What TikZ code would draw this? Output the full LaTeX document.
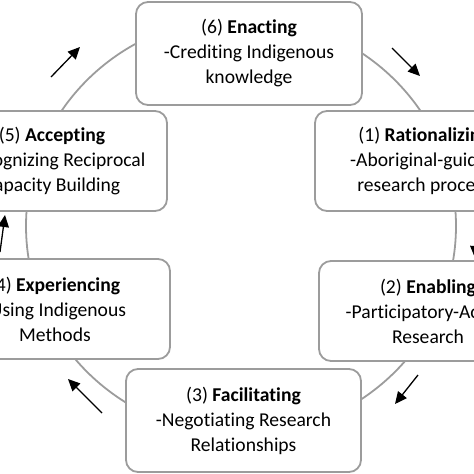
\documentclass[tikz,border=0pt]{standalone}
\usepackage{fontspec}
\setmainfont{Carlito}[Ligatures = NoCommon]
\usepackage{xcolor}
\usetikzlibrary{arrows.meta,positioning,shapes,calc}
\definecolor{ringgray}{HTML}{9C9C9C}

\begin{document}
\begin{tikzpicture}[x = 1pt, y = -1pt,
  stage/.style = {draw = ringgray, line width = 1.8pt, rounded corners = 12pt, fill = white,
    align = center, minimum height = 100pt, inner sep = 2pt,
    font = {\fontsize{19.6}{25}\selectfont}},
  flow/.style = {line width = 1.3pt, -{Triangle[length = 12pt, width = 11pt]}}]
\useasboundingbox (0,0) rectangle (474,474);
\clip (0,0) rectangle (474,474);
\draw[ringgray, line width = 1.8pt] (241,226) ellipse [x radius = 215pt, y radius = 209pt];
\node[stage, minimum width = 226pt, minimum height = 103pt] (enact) at (249,53.5) {(6) \textbf{Enacting}\\-Crediting Indigenous\\knowledge};
\node[stage, minimum width = 218pt] (rational) at (424,161) {(1) \textbf{Rationalizing}\\-Aboriginal-guided\\research process};
\node[stage, minimum width = 218pt] (enable) at (428,311) {(2) \textbf{Enabling}\\-Participatory-Action\\Research};
\node[stage, minimum width = 235pt, minimum height = 103pt] (facil) at (243.5,420.5) {(3) \textbf{Facilitating}\\-Negotiating Research\\Relationships};
\node[stage, minimum width = 230pt] (exper) at (55,309) {(4) \textbf{Experiencing}\\-Using Indigenous\\Methods};
\node[stage, minimum width = 230pt] (accept) at (52,161) {(5) \textbf{Accepting}\\-Recognizing Reciprocal\\Capacity Building};
\coordinate (t1) at (392,48);   \coordinate (h1) at (420,76);
\coordinate (t2) at (477,222);  \coordinate (h2) at (475,258);
\coordinate (t3) at (418,375);  \coordinate (h3) at (395,404);
\coordinate (t4) at (102,413);  \coordinate (h4) at (68,379);
\coordinate (t5) at (0,252);    \coordinate (h5) at (5,215);
\coordinate (t6) at (51,77);    \coordinate (h6) at (80,47);
\draw[flow] (t1) -- (h1);
\draw[flow] (t2) -- (h2);
\draw[flow] (t3) -- (h3);
\draw[flow] (t4) -- (h4);
\draw[flow] (t5) -- (h5);
\draw[flow] (t6) -- (h6);
\end{tikzpicture}
\end{document}
